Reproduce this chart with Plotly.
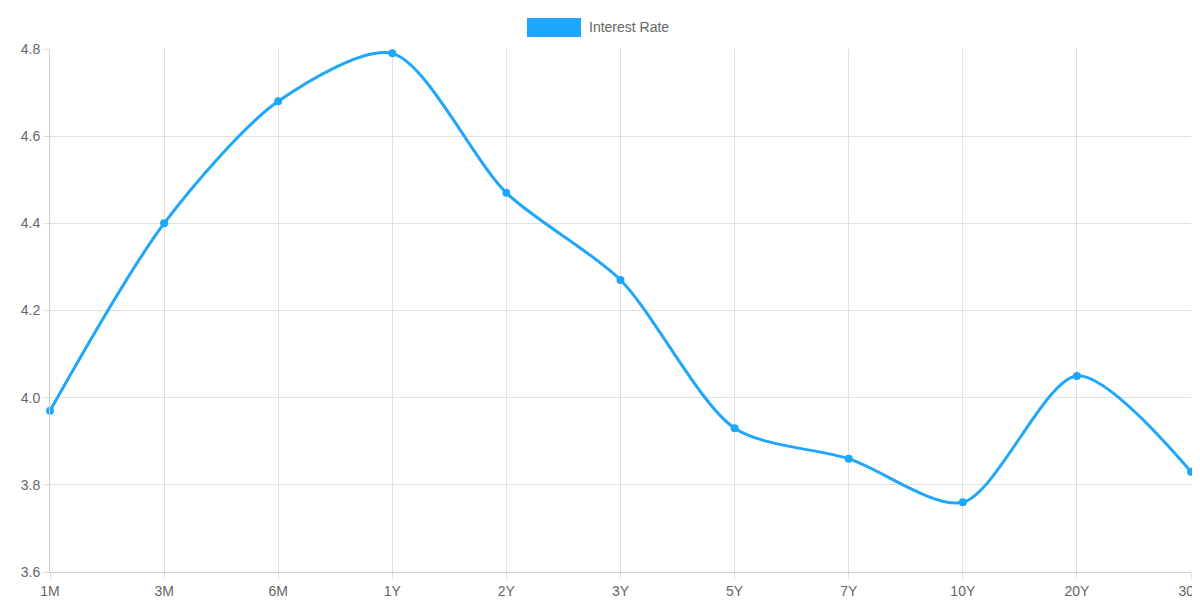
import plotly.graph_objects as go

tenors = ["1M","3M","6M","1Y","2Y","3Y","5Y","7Y","10Y","20Y","30Y"]
rates = [3.97,4.40,4.68,4.79,4.47,4.27,3.93,3.86,3.76,4.05,3.83]
series_name = "Interest Rate"
color = "#1EA7FD"

fig = go.Figure(go.Scatter(
    x=tenors, y=rates, mode="lines+markers", name=series_name,
    line=dict(color=color, width=3, shape="spline", smoothing=0.8),
    marker=dict(color=color, size=8), showlegend=False, cliponaxis=False))

fig.update_layout(
    width=1200, height=600, margin=dict(l=42, r=17, t=41, b=36, autoexpand=False),
    paper_bgcolor="white", plot_bgcolor="white",
    font=dict(family="Liberation Sans, Arial", size=14, color="#666"),
    xaxis=dict(range=[0, 10], showgrid=True, gridcolor="#e0e0e0", linecolor="#ccc",
               showline=True, ticks="outside", ticklen=6, tickcolor="#e0e0e0", automargin=False),
    yaxis=dict(range=[3.6, 4.8], dtick=0.2, tickformat=".1f", showgrid=True,
               gridcolor="#e0e0e0", linecolor="#ccc", showline=True, zeroline=False,
               ticks="outside", ticklen=6, tickcolor="#e0e0e0", automargin=False),
    shapes=[dict(type="rect", xref="paper", yref="paper",
                 x0=(519-42)/1141, x1=(573-42)/1141, y0=1+(41-29)/523, y1=1+(41-10)/523,
                 fillcolor=color, line=dict(color=color, width=0))],
    annotations=[dict(text=series_name, xref="paper", yref="paper",
                      x=(579-42)/1141, y=1+(41-19)/523, xanchor="left", yanchor="middle",
                      showarrow=False, font=dict(size=14, color="#666"))],
)
fig.write_html("out.html")
